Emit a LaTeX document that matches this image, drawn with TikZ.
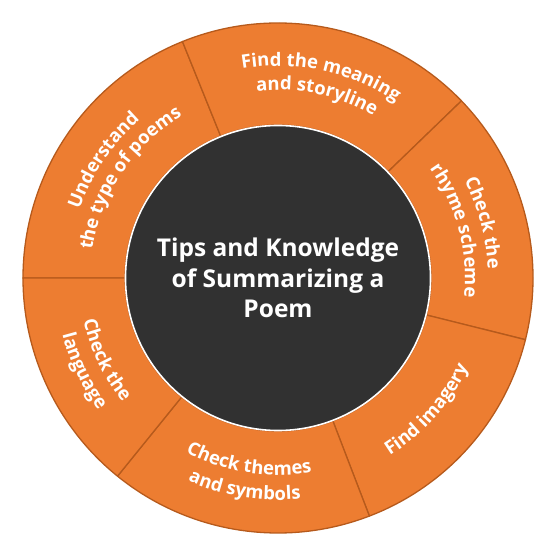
\documentclass[tikz,border=0pt]{standalone}
\usepackage{fontspec}
\setmainfont{Open Sans}
\usetikzlibrary{decorations.text}
\definecolor{ringorange}{HTML}{ED7D31}
\definecolor{ringedge}{HTML}{B65A1C}
\definecolor{hubgray}{HTML}{313131}
\newcommand{\ringfont}{\fontsize{18.5}{21}\selectfont\bfseries}

\begin{document}
\begin{tikzpicture}[x=1pt, y=1pt, line join=round]
\tikzset{
    segment/.style={fill=ringorange, draw=ringedge, line width=1.3pt},
    hub/.style={circle, fill=hubgray, draw=white, line width=1.6pt, minimum size=305pt, inner sep=0pt,
        align=center, text=white, font=\fontsize{24.5}{30.5}\selectfont\bfseries},
    ringtext/.style={decorate, decoration={text along path, text align=center, text color=white,
        text={|\ringfont|#1}}}
}
\useasboundingbox (-278,-278) rectangle (278,278);
\foreach \a/\b in {112/180, 44/112, -14/44, -69/-14, -129/-69, -180/-129}
    \draw[segment] (\a:153) arc[start angle=\a, end angle=\b, radius=153]
        -- (\b:255) arc[start angle=\b, end angle=\a, radius=255] -- cycle;
\node[hub] (hub) at (0,0) {Tips and Knowledge\\of Summarizing a\\Poem};
\path[ringtext={Find the meaning}] (112:212) arc[start angle=112, end angle=44, radius=212];
\path[ringtext={and storyline}] (112:188) arc[start angle=112, end angle=44, radius=188];
\path[ringtext={Check the}] (44:210) arc[start angle=44, end angle=-14, radius=210];
\path[ringtext={rhyme scheme}] (44:187) arc[start angle=44, end angle=-14, radius=187];
\path[ringtext={Understand}] (180:210) arc[start angle=180, end angle=112, radius=210];
\path[ringtext={the type of poems}] (180:188) arc[start angle=180, end angle=112, radius=188];
\path[ringtext={Check the}] (180:199) arc[start angle=180, end angle=231, radius=199];
\path[ringtext={language}] (180:223) arc[start angle=180, end angle=231, radius=223];
\path[ringtext={Check themes}] (231:197) arc[start angle=231, end angle=291, radius=197];
\path[ringtext={and symbols}] (231:222) arc[start angle=231, end angle=291, radius=222];
\path[ringtext={Find imagery}] (291:210) arc[start angle=291, end angle=346, radius=210];
\end{tikzpicture}
\end{document}
